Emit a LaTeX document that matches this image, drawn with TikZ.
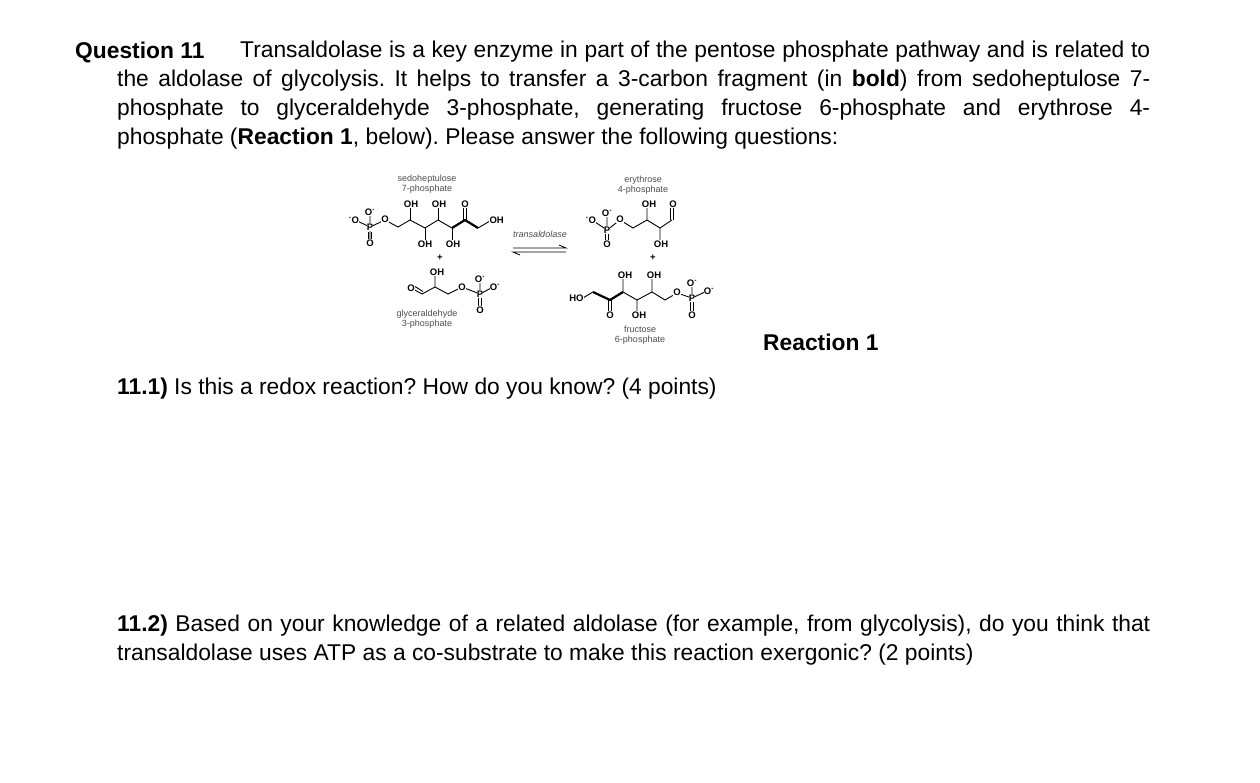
\documentclass[tikz,border=0pt]{standalone}
\usepackage{fontspec}
\setmainfont{Liberation Sans}
\frenchspacing
\begin{document}
\begin{tikzpicture}[x=1pt,y=-1pt,
  tx/.style={anchor=west,inner sep=0pt,font=\fontsize{22.8}{25}\selectfont},
  atm/.style={inner sep=0.3pt,fill=white,font=\fontsize{9.5}{10}\selectfont\bfseries},
  nm/.style={inner sep=0pt,text=black!70,font=\fontsize{9}{10.5}\selectfont,align=center},
  bd/.style={line width=0.9pt},
  bb/.style={line width=2.2pt}]
\useasboundingbox (0,0) rectangle (1260,782);
\node[tx] (l1a) at (75,52) {\textbf{Question 11}};
\node[tx] (l1) at (240,52) {\makebox[910pt][s]{Transaldolase is a key enzyme in part of the pentose phosphate pathway and is related to}};
\node[tx] (l2) at (117,81) {\makebox[1033pt][s]{the aldolase of glycolysis. It helps to transfer a 3-carbon fragment (in \textbf{bold}) from sedoheptulose 7-}};
\node[tx] (l3) at (117,110) {\makebox[1033pt][s]{phosphate to glyceraldehyde 3-phosphate, generating fructose 6-phosphate and erythrose 4-}};
\node[tx] (l4) at (117,139) {phosphate (\textbf{Reaction 1}, below). Please answer the following questions:};
\node[tx] (r1) at (763,342) {\textbf{Reaction 1}};
\node[tx] (q1) at (117,389) {\textbf{11.1)} Is this a redox reaction? How do you know? (4 points)};
\node[tx] (q2a) at (117,626) {\makebox[1033pt][s]{\textbf{11.2)} Based on your knowledge of a related aldolase (for example, from glycolysis), do you think that}};
\node[tx] (q2b) at (117,655) {transaldolase uses ATP as a co-substrate to make this reaction exergonic? (2 points)};

% sedoheptulose 7-phosphate
\node[nm] (n1) at (427,184) {sedoheptulose\\7-phosphate};
\draw[bd] (370,212)--(370,243) (355,220)--(370,227)--(385,220)--(398,227)--(410,220)--(425,228)--(438,220)--(452,228);
\draw[bd] (368.8,232)--(368.8,243) (371.2,232)--(371.2,243);
\draw[bb] (452,228)--(465,220)--(478,228);
\draw[bd] (478,228)--(490,221);
\draw[bd] (410,220)--(410,206) (438,220)--(438,206) (425,228)--(425,242) (452,228)--(452,242);
\draw[bd] (463.8,220)--(463.8,206) (466.2,220)--(466.2,206);
\node[atm] (sP) at (370,227) {P};
\node[atm] (sO1) at (370,212) {O\textsuperscript{-}};
\node[atm] (sO2) at (354,220) {\textsuperscript{-}O};
\node[atm] (sO3) at (370,243) {O};
\node[atm] (sO4) at (385,219) {O};
\node[atm] (sOH1) at (411,204) {OH};
\node[atm] (sOH2) at (439,204) {OH};
\node[atm] (sO5) at (465,204) {O};
\node[atm] (sOH3) at (425,244) {OH};
\node[atm] (sOH4) at (453,244) {OH};
\node[atm,anchor=west] (sOH5) at (489,220) {OH};
\node[atm,fill=none] (p1) at (440,258) {+};

% glyceraldehyde 3-phosphate
\draw[bd] (413,289)--(422,294) (415,286.5)--(423,291.5);
\draw[bd] (422,294)--(435,287)--(448,294)--(462,287)--(480,294)--(493,287) (435,287)--(435,274) (480,278)--(480,294);
\draw[bd] (478.8,298)--(478.8,309) (481.2,298)--(481.2,309);
\node[atm] (gO) at (411,288) {O};
\node[atm] (gOH) at (437,272) {OH};
\node[atm] (gO2) at (462,287) {O};
\node[atm] (gP) at (480,294) {P};
\node[atm] (gO3) at (480,279) {O\textsuperscript{-}};
\node[atm] (gO4) at (495,287) {O\textsuperscript{-}};
\node[atm] (gO5) at (480,310) {O};
\node[nm] (n2) at (427,319) {glyceraldehyde\\3-phosphate};

% arrow
\node[nm,font=\fontsize{9}{10}\selectfont\itshape] (tr) at (540,234) {transaldolase};
\coordinate (a1) at (513,248); \coordinate (a2) at (566,248);
\coordinate (b1) at (566,252); \coordinate (b2) at (513,252);
\draw[line width=0.8pt] (a1)--(a2)--++(-7,-3);
\draw[line width=0.8pt] (b1)--(b2)--++(7,3);

% erythrose 4-phosphate
\node[nm] (n3) at (643,185) {erythrose\\4-phosphate};
\draw[bd] (607,213)--(607,230) (592,220)--(607,230)--(620,220)--(633,228)--(647,220)--(660,228)--(672,220) (647,220)--(647,205) (660,228)--(660,242);
\draw[bd] (605.8,234)--(605.8,243) (608.2,234)--(608.2,243);
\draw[bd] (670.8,220)--(670.8,206) (673.2,220)--(673.2,206);
\node[atm] (eP) at (607,230) {P};
\node[atm] (eO1) at (607,213) {O\textsuperscript{-}};
\node[atm] (eO2) at (591,220) {\textsuperscript{-}O};
\node[atm] (eO3) at (607,244) {O};
\node[atm] (eO4) at (620,219) {O};
\node[atm] (eOH1) at (649,204) {OH};
\node[atm] (eO5) at (673,204) {O};
\node[atm] (eOH2) at (661,244) {OH};
\node[atm,fill=none] (p2) at (653,258) {+};

% fructose 6-phosphate
\draw[bd] (583,298)--(593,292);
\draw[bb] (593,292)--(610,300)--(623,292);
\draw[bd] (623,292)--(637,300)--(652,292)--(665,300)--(677,293)--(692,298)--(707,291) (692,283)--(692,298) (623,292)--(623,277) (652,292)--(652,277) (637,300)--(637,313);
\draw[bd] (608.8,300)--(608.8,313) (611.2,300)--(611.2,313);
\draw[bd] (690.8,302)--(690.8,313) (693.2,302)--(693.2,313);
\node[atm,anchor=east] (fHO) at (584,298) {HO};
\node[atm] (fO) at (610,315) {O};
\node[atm] (fOH1) at (625,275) {OH};
\node[atm] (fOH2) at (654,275) {OH};
\node[atm] (fOH3) at (639,315) {OH};
\node[atm] (fO2) at (677,292) {O};
\node[atm] (fP) at (692,298) {P};
\node[atm] (fO3) at (692,283) {O\textsuperscript{-}};
\node[atm] (fO4) at (709,291) {O\textsuperscript{-}};
\node[atm] (fO5) at (692,315) {O};
\node[nm] (n4) at (640,335) {fructose\\6-phosphate};
\end{tikzpicture}
\end{document}
